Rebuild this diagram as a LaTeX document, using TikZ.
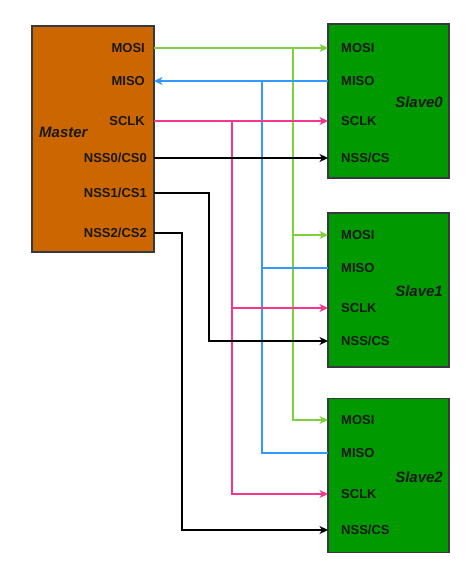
\documentclass[tikz,border=0pt]{standalone}
\usepackage{fontspec}
\setmainfont{Liberation Sans}
\usetikzlibrary{arrows.meta}
\definecolor{mosiC}{HTML}{80CF3E}
\definecolor{misoC}{HTML}{3399FF}
\definecolor{sclkC}{HTML}{F5368E}
\definecolor{orangeF}{HTML}{CC6600}
\definecolor{greenF}{HTML}{009900}
\definecolor{borderC}{HTML}{36393D}
\tikzset{
  chip/.style={draw=borderC, line width=1.3pt, inner sep=0pt},
  masterbox/.style={chip, fill=orangeF, minimum width=122pt, minimum height=226pt},
  slavebox/.style={chip, fill=greenF, minimum width=121pt, minimum height=154pt},
  pinlbl/.style={font=\fontsize{13}{15}\selectfont\bfseries, inner sep=0pt, text=black!90},
  namelbl/.style={font=\fontsize{15}{17}\selectfont\bfseries\itshape, inner sep=0pt, text=black!90},
  wire/.style={line width=1.2pt},
  tip/.style={-{Stealth[length=8.5pt,width=8pt,inset=2.5pt]}},
  tipback/.style={{Stealth[length=8.5pt,width=8pt,inset=2.5pt]}-},
}
\begin{document}
\begin{tikzpicture}[x=1pt,y=-1pt]
\useasboundingbox (0,0) rectangle (474,562);
% boxes
\node[masterbox] (M) at (93,139) {};
\node[slavebox] (S0) at (388.5,101) {};
\node[slavebox] (S1) at (388.5,290) {};
\node[slavebox] (S2) at (388.5,475.5) {};
% master labels
\node[namelbl, anchor=west] (Mname) at (39,132) {Master};
\node[pinlbl, anchor=east] (lMOSI) at (145,48) {MOSI};
\node[pinlbl, anchor=east] (lMISO) at (145,81) {MISO};
\node[pinlbl, anchor=east] (lSCLK) at (145,121) {SCLK};
\node[pinlbl, anchor=east] (lN0) at (147,158) {NSS0/CS0};
\node[pinlbl, anchor=east] (lN1) at (147,193) {NSS1/CS1};
\node[pinlbl, anchor=east] (lN2) at (147,233) {NSS2/CS2};
% slave labels
\node[namelbl, anchor=east] (S0name) at (443,102) {Slave0};
\node[namelbl, anchor=east] (S1name) at (443,291) {Slave1};
\node[namelbl, anchor=east] (S2name) at (443,477) {Slave2};
\foreach \s/\a/\b/\c/\d in {0/48/81/121/158, 1/235/268/308/341, 2/420/453/494/530}{
  \node[pinlbl, anchor=west] (s\s mosi) at (341,\a) {MOSI};
  \node[pinlbl, anchor=west] (s\s miso) at (341,\b) {MISO};
  \node[pinlbl, anchor=west] (s\s sclk) at (341,\c) {SCLK};
  \node[pinlbl, anchor=west] (s\s nss) at (341,\d) {NSS/CS};
  \coordinate (p\s mosi) at (328,\a);
  \coordinate (p\s miso) at (328,\b);
  \coordinate (p\s sclk) at (328,\c);
  \coordinate (p\s nss) at (328,\d);
}
% master pins
\coordinate (mMOSI) at (154,48);
\coordinate (mMISO) at (154,81);
\coordinate (mSCLK) at (154,121);
\coordinate (mN0) at (154,158);
\coordinate (mN1) at (154,193);
\coordinate (mN2) at (154,233);
% bus junctions
\coordinate (gJ) at (293,48);
\coordinate (bJ) at (262,81);
\coordinate (pJ) at (232,121);
\coordinate (k1) at (209,193);
\coordinate (k2) at (182,233);
% MOSI
\draw[wire, mosiC, tip] (mMOSI) -- (p0mosi);
\draw[wire, mosiC, tip] (gJ) |- (p1mosi);
\draw[wire, mosiC, tip] (gJ) |- (p2mosi);
% MISO
\draw[wire, misoC, tipback] (mMISO) -- (p0miso);
\draw[wire, misoC] (p1miso) -| (bJ);
\draw[wire, misoC] (p2miso) -| (bJ);
% SCLK
\draw[wire, sclkC, tip] (mSCLK) -- (p0sclk);
\draw[wire, sclkC, tip] (pJ) |- (p1sclk);
\draw[wire, sclkC, tip] (pJ) |- (p2sclk);
% NSS
\draw[wire, black, tip] (mN0) -- (p0nss);
\draw[wire, black, tip] (mN1) -- (k1) |- (p1nss);
\draw[wire, black, tip] (mN2) -- (k2) |- (p2nss);
\end{tikzpicture}
\end{document}
